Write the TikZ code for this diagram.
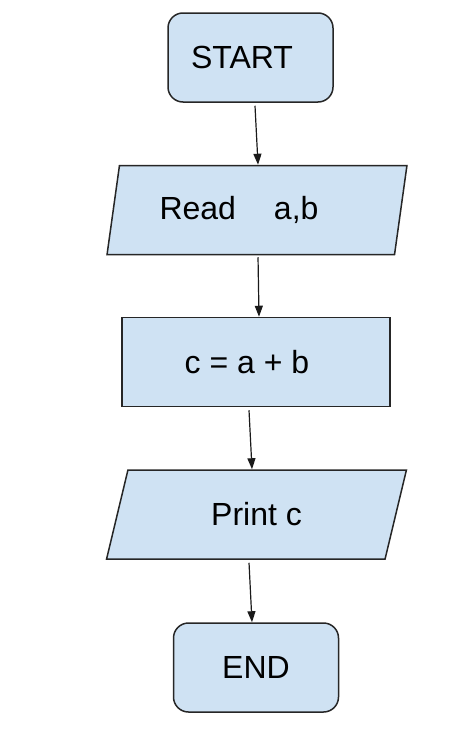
\documentclass[tikz,border=0pt]{standalone}
\usepackage{fontspec}
\setmainfont{Liberation Sans}
\usepackage[HTML]{xcolor}
\usepackage{tikz}
\usetikzlibrary{shapes.geometric, arrows.meta}
\definecolor{boxblue}{HTML}{CFE2F3}

\begin{document}
\begin{tikzpicture}[x=1pt,y=-1pt,
  box/.style={draw=black!85,line width=1.5pt,fill=boxblue,font=\fontsize{32}{38}\selectfont,minimum height=89pt},
  terminal/.style={box,rectangle,rounded corners=15pt,minimum width=165pt},
  process/.style={box,rectangle,minimum width=268pt},
  io/.style={box,trapezium,trapezium left angle=75,trapezium right angle=105,trapezium stretches=true,minimum width=300pt},
  flow/.style={-{Triangle[length=11pt,width=8pt]},line width=1.2pt,black!90}]
\useasboundingbox (0,0) rectangle (474,744);
\node[terminal] (start) at (250.5,57.5) {START\kern17pt};
\node[io] (read) at (257,210) {Read\hspace{38pt}a,b\kern36pt};
\node[process] (calc) at (256,362) {c = a + b\kern18pt};
\node[io] (print) at (256.5,514.5) {Print c};
\node[terminal] (stop) at (256,667.5) {END};
\draw[flow] ([xshift=4.5pt,yshift=-3pt]start.south) -- ([xshift=1pt]read.north);
\draw[flow] ([xshift=1pt,yshift=-2pt]read.south) -- ([xshift=3pt]calc.north);
\draw[flow] ([xshift=-7pt,yshift=-3pt]calc.south) -- ([xshift=-4.5pt]print.north);
\draw[flow] ([xshift=-7.5pt,yshift=-3pt]print.south) -- ([xshift=-4pt]stop.north);
\end{tikzpicture}
\end{document}
